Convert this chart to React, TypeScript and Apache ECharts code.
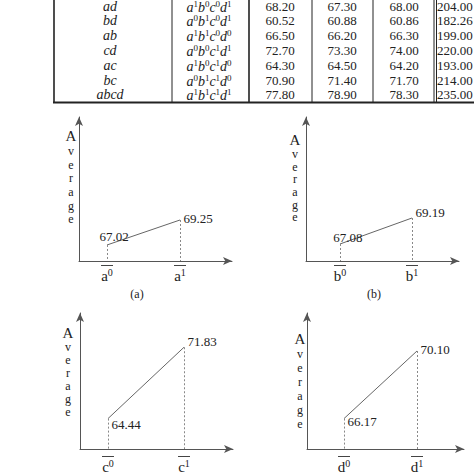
import React, { useEffect, useRef } from 'react';
import * as echarts from 'echarts';

// ---------- DATA ----------
const rowLabels = ['ad', 'bd', 'ab', 'cd', 'ac', 'bc', 'abcd'];
const factorNames = ['a', 'b', 'c', 'd'];
const treatmentLevels = [
  [1, 0, 0, 1],
  [0, 1, 0, 1],
  [1, 1, 0, 0],
  [0, 0, 1, 1],
  [1, 0, 1, 0],
  [0, 1, 1, 0],
  [1, 1, 1, 1],
];
const rep1 = [68.2, 60.52, 66.5, 72.7, 64.3, 70.9, 77.8];
const rep2 = [67.3, 60.88, 66.2, 73.3, 64.5, 71.4, 78.9];
const rep3 = [68.0, 60.86, 66.3, 74.0, 64.2, 71.7, 78.3];
const totals = [204.0, 182.26, 199.0, 220.0, 193.0, 214.0, 235.0];

const levels = [0, 1];
const meanA = [67.02, 69.25];
const meanB = [67.08, 69.19];
const meanC = [64.44, 71.83];
const meanD = [66.17, 70.1];
const captions = ['(a)', '(b)', '', ''];
const yTitle = 'Average';

// ---------- LAYOUT ----------
const SERIF = "'Liberation Serif', 'DejaVu Serif', serif";
const panels = [
  {
    letter: 'a', values: meanA,
    grid: { left: 79, top: 117, width: 153, height: 144 },
    x: [-0.384, 1.712], y: [65.59, 78.44], margin: 3,
    labels: [{ position: 'top', offset: [7, 2] }, { position: 'right', offset: [0, -1] }],
    title: { x: 71, y: 136, lh: 14 }, cap: { x: 137, y: 294 },
  },
  {
    letter: 'b', values: meanB,
    grid: { left: 306, top: 117, width: 153, height: 144 },
    x: [-0.472, 1.653], y: [65.7, 77.39], margin: 3,
    labels: [{ position: 'top', offset: [8, 3] }, { position: 'right', offset: [0, -6] }],
    title: { x: 295, y: 140, lh: 13 }, cap: { x: 374, y: 294 },
  },
  {
    letter: 'c', values: meanC,
    grid: { left: 80, top: 313, width: 153, height: 143 },
    x: [-0.368, 1.645], y: [61.29, 75.38], margin: 6,
    labels: [{ position: 'right', offset: [0, 6] }, { position: 'right', offset: [0, -6] }],
    title: { x: 68, y: 333, lh: 13.3 }, cap: null,
  },
  {
    letter: 'd', values: meanD,
    grid: { left: 307, top: 313, width: 157, height: 143 },
    x: [-0.507, 1.644], y: [64.4, 72.31], margin: 6,
    labels: [{ position: 'right', offset: [0, 3] }, { position: 'right', offset: [0, -1] }],
    title: { x: 300, y: 339, lh: 14.2 }, cap: null,
  },
];

const tableLinesX = [54, 172, 249, 312, 373, 434, 436.5];
const tableBottom = 102;
const rowY0 = 6;
const rowStep = 14.8;
const colX = { label: 110, treat: 209, r1: 280, r2: 342, r3: 404, total: 437 };

export default function App() {
  const ref = useRef<HTMLDivElement>(null);

  useEffect(() => {
    const chart = echarts.init(ref.current!, null, { renderer: 'svg' });

    const axisColor = '#555';
    const grids: any[] = [];
    const xAxes: any[] = [];
    const yAxes: any[] = [];
    const series: any[] = [];
    const graphics: any[] = [];

    panels.forEach((p, i) => {
      grids.push({ ...p.grid });
      xAxes.push({
        type: 'value', gridIndex: i, min: p.x[0], max: p.x[1],
        axisLine: { show: true, onZero: false, symbol: ['none', 'arrow'], symbolSize: [6, 9], lineStyle: { color: axisColor, width: 1 } },
        axisTick: { show: false },
        splitLine: { show: false },
        axisLabel: {
          show: true,
          customValues: levels,
          margin: p.margin,
          formatter: (v: number) => `{bar| }\n{b|${p.letter}}{s|${v}}`,
          rich: {
            bar: { width: 12, height: 1, lineHeight: 3, backgroundColor: '#444' },
            b: { fontSize: 15, fontFamily: SERIF, color: '#222', lineHeight: 17 },
            s: { fontSize: 10, fontFamily: SERIF, color: '#222', lineHeight: 10, verticalAlign: 'top' },
          },
        },
      });
      yAxes.push({
        type: 'value', gridIndex: i, min: p.y[0], max: p.y[1],
        axisLine: { show: true, onZero: false, symbol: ['none', 'arrow'], symbolSize: [6, 9], lineStyle: { color: axisColor, width: 1 } },
        axisTick: { show: false },
        axisLabel: { show: false },
        splitLine: { show: false },
      });
      series.push({
        type: 'line', xAxisIndex: i, yAxisIndex: i, silent: true,
        symbol: 'circle', symbolSize: 1,
        itemStyle: { color: 'rgba(0,0,0,0)' },
        lineStyle: { color: '#666', width: 1 },
        data: p.values.map((v, k) => ({
          value: [levels[k], v],
          label: {
            show: true,
            position: p.labels[k].position,
            offset: p.labels[k].offset,
            distance: 3,
            formatter: v.toFixed(2),
            fontSize: 13, fontFamily: SERIF, color: '#222',
          },
        })),
        markLine: {
          silent: true, symbol: 'none', animation: false,
          label: { show: false },
          lineStyle: { type: [2, 2], color: '#888', width: 1 },
          data: p.values.map((v, k) => [{ coord: [levels[k], v] }, { coord: [levels[k], p.y[0]] }]),
        },
      });

      // vertical y-axis title
      const letters = yTitle.split('');
      graphics.push({
        type: 'text', silent: true,
        style: {
          x: p.title.x, y: p.title.y - p.title.lh / 2 - 1,
          text: letters.map((c, j) => (j === 0 ? `{A|${c}}` : `{l|${c}}`)).join('\n'),
          textAlign: 'center', textVerticalAlign: 'top',
          rich: {
            A: { fontSize: 15, fontFamily: SERIF, fill: '#222', lineHeight: p.title.lh + 2, align: 'center' },
            l: { fontSize: 12, fontFamily: SERIF, fill: '#222', lineHeight: p.title.lh - 0.3, align: 'center' },
          },
        },
      });
      if (p.cap) {
        graphics.push({
          type: 'text', silent: true,
          style: { x: p.cap.x, y: p.cap.y, text: captions[i], textAlign: 'center', textVerticalAlign: 'middle', fontSize: 12, fontFamily: SERIF, fill: '#222' },
        });
      }
    });

    // ---------- table ----------
    tableLinesX.forEach((x, j) => {
      graphics.push({
        type: 'line', silent: true,
        shape: { x1: x, y1: 0, x2: x, y2: tableBottom },
        style: { stroke: '#222', lineWidth: j === 0 || j === 2 ? 1.6 : 1 },
      });
    });
    graphics.push({
      type: 'line', silent: true,
      shape: { x1: 53, y1: tableBottom + 0.5, x2: 474, y2: tableBottom + 0.5 },
      style: { stroke: '#222', lineWidth: 2 },
    });
    const numStyle = { fontSize: 13, fontFamily: SERIF, fill: '#222', textVerticalAlign: 'middle' };
    rowLabels.forEach((lab, i) => {
      const y = rowY0 + i * rowStep;
      graphics.push({ type: 'text', silent: true, style: { ...numStyle, x: colX.label, y, text: lab, fontSize: 14, fontStyle: 'italic', textAlign: 'center' } });
      graphics.push({
        type: 'text', silent: true,
        style: {
          x: colX.treat, y: y + 1, textAlign: 'center', textVerticalAlign: 'middle',
          text: treatmentLevels[i].map((e, j) => `{i|${factorNames[j]}}{s|${e}}`).join(''),
          rich: {
            i: { fontSize: 14, fontFamily: SERIF, fontStyle: 'italic', fill: '#222', lineHeight: 16 },
            s: { fontSize: 9, fontFamily: SERIF, fill: '#222', lineHeight: 9, verticalAlign: 'top' },
          },
        },
      });
      graphics.push({ type: 'text', silent: true, style: { ...numStyle, x: colX.r1, y, text: rep1[i].toFixed(2), textAlign: 'center' } });
      graphics.push({ type: 'text', silent: true, style: { ...numStyle, x: colX.r2, y, text: rep2[i].toFixed(2), textAlign: 'center' } });
      graphics.push({ type: 'text', silent: true, style: { ...numStyle, x: colX.r3, y, text: rep3[i].toFixed(2), textAlign: 'center' } });
      graphics.push({ type: 'text', silent: true, style: { ...numStyle, x: colX.total, y, text: totals[i].toFixed(2), textAlign: 'left' } });
    });

    chart.setOption({
      animation: false,
      backgroundColor: '#fff',
      grid: grids,
      xAxis: xAxes,
      yAxis: yAxes,
      series,
      graphic: graphics,
    });

    return () => chart.dispose();
  }, []);

  return (
    <div
      ref={ref}
      style={{ position: 'fixed', left: 0, top: 0, width: 474, height: 474, background: '#fff' }}
    />
  );
}
